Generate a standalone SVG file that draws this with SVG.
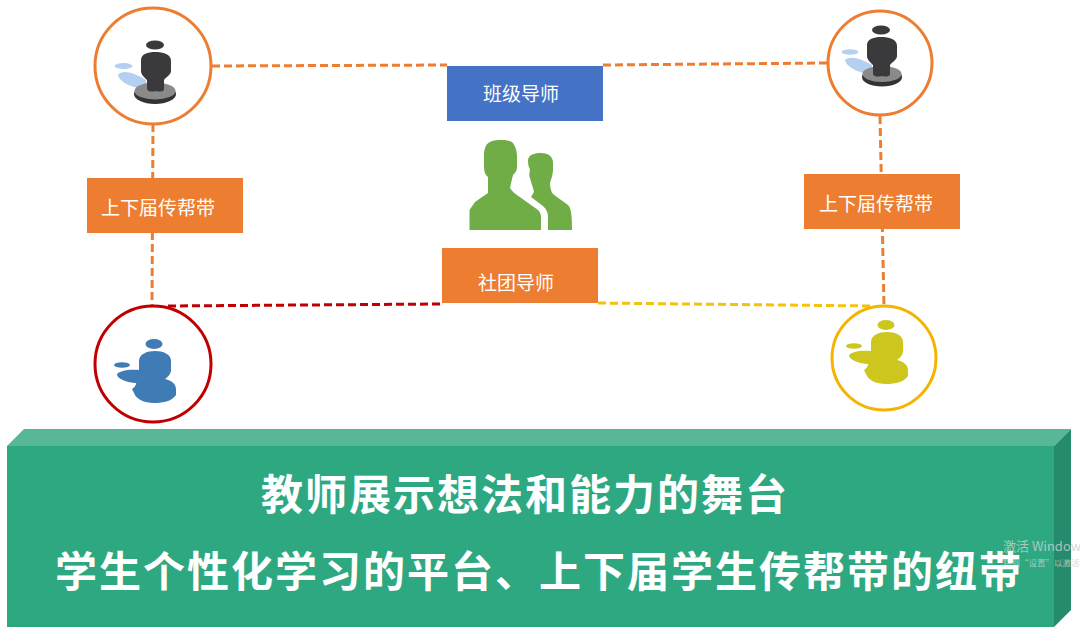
<svg xmlns="http://www.w3.org/2000/svg" width="1080" height="629" viewBox="0 0 1080 629">
<style>
.cjk{font-family:"Noto Sans CJK SC","Noto Sans",sans-serif}
.lbl{font-size:19px;fill:#fff;text-anchor:middle}
.big{font-size:42px;font-weight:700;fill:#fff;letter-spacing:2px}
.c{fill:#fff;stroke-width:3}
.d{fill:none;stroke-width:3;stroke-dasharray:8 4}
.dark{fill:#3a3a3c}.sh{fill:#b4cff0}
.wm{fill:#c8d2ce;opacity:.8}
</style>
<defs>
<g id="p">
<ellipse cx="0" cy="-29" rx="9" ry="4.500"/>
<path d="M-14-14C-14-20-7-22 0-22C8-22 16-20 16-13L16-3C16 1 10 4 9 6L9 15C9 18 4 18 1 17C-3 18-7 18-8 15L-8 6C-10 4-14 1-14-3Z"/>
</g>
<g id="q">
<ellipse cx="-32" cy="1" rx="8" ry="2.800"/>
<ellipse cx="0" cy="-20" rx="8.500" ry="5"/>
<path d="M-15-3C-15-10-7-13 1-13C9-13 17-10 17-3L17 6C17 10 14 13 11 15C16 16 22 19 22 25L22 31C18 37 10 39 0 39C-10 39-18 35-20 29L-22 25C-20 24-17 20-18 19C-26 19-36 15-37 11C-37 7-25 5-15 6Z"/>
</g>
</defs>
<g id="connectors">
<path class="d" stroke="#ed7d31" d="M212 66L447 65"/>
<path class="d" stroke="#ed7d31" d="M603 65L828 63"/>
<path class="d" stroke="#ed7d31" d="M153 124L152 306"/>
<path class="d" stroke="#ed7d31" d="M880 116L884 306"/>
<path class="d" stroke="#c00000" d="M168 306L442 304"/>
<path class="d" stroke="#f4c20d" d="M598 303L870 306"/>
</g>
<g id="node-tl">
<circle class="c" cx="153" cy="66" r="58" stroke="#ed7d31"/>
<ellipse class="sh" cx="123.500" cy="66" rx="9" ry="3"/>
<path class="sh" d="M118 75C122 69 135 73 146 80L146 90C136 88 120 84 118 75Z"/>
<ellipse cx="155" cy="94" rx="21" ry="10" fill="#333"/>
<ellipse cx="155" cy="91" rx="20.500" ry="8.500" fill="#8a8a8a"/>
<use href="#p" x="155" y="74" class="dark"/>
</g>
<g id="node-tr">
<circle class="c" cx="880" cy="63" r="52" stroke="#ed7d31"/>
<ellipse class="sh" cx="850" cy="52" rx="8.500" ry="2.800"/>
<path class="sh" d="M845 60C850 55 862 59 872 65L872 75C862 73 847 69 845 60Z"/>
<ellipse cx="882" cy="77" rx="20" ry="9.500" fill="#333"/>
<ellipse cx="882" cy="74" rx="19.500" ry="8" fill="#8a8a8a"/>
<use href="#p" x="881" y="59" class="dark"/>
</g>
<g id="node-bl">
<circle class="c" cx="153" cy="364" r="58" stroke="#c00000"/>
<use href="#q" x="154" y="364" fill="#3f7cb5"/>
</g>
<g id="node-br">
<circle class="c" cx="884" cy="358" r="52" stroke="#f4b400"/>
<use href="#q" x="886" y="345" fill="#cdc61f"/>
</g>
<g id="node-teacher-class">
<rect x="447" y="66" width="156" height="55" fill="#4472c4"/>
<text class="cjk lbl" x="521" y="101">班级导师</text>
</g>
<g id="node-mentors">
<path fill="#70ad47" d="M469.500 230L469.500 210L475 202L488 193L488 177C485 175 484 171 484 167L484 153C485 147 486 144 490 142C494 140 498 140 502 140C507 140 511 141 513 143C516 147 517 152 517 157L517 167C517 171 515 173 513 175C512 179 511 183 510 188C512 191 514 193 517 195L538 210C540 212 541 214 541 217L541 230Z"/>
<path fill="#70ad47" d="M548 230L548 217C548 212 546 209 543 206C539 203 535 200 531 197L534 192C533 187 531 182 530 178C529 176 529 174 530 170C528 166 528 162 528 160C529 155 533 153 541 153C549 153 553 157 553 163L553 170C553 175 551 179 550 183C550 187 551 190 552 193C556 197 563 201 568 205C571 208 572 214 572 230Z"/>
</g>
<g id="node-teacher-club">
<rect x="442" y="248" width="156" height="55" fill="#ed7d31"/>
<text class="cjk lbl" x="516" y="290">社团导师</text>
</g>
<g id="node-help-left">
<rect x="87" y="178" width="156" height="55" fill="#ed7d31"/>
<text class="cjk lbl" x="158" y="215">上下届传帮带</text>
</g>
<g id="node-help-right">
<rect x="804" y="174" width="156" height="55" fill="#ed7d31"/>
<text class="cjk lbl" x="876" y="211">上下届传帮带</text>
</g>
<g id="node-platform">
<polygon points="7,446 24,429 1071,429 1054,446" fill="#58b797"/>
<polygon points="1054,446 1071,429 1071,610 1054,627" fill="#268a6c"/>
<rect x="7" y="446" width="1047" height="181" fill="#2ea881"/>
<text class="wm cjk" x="1003" y="551" font-size="13">激活 Window</text>
<text class="wm cjk" x="1003" y="566" font-size="8.500">转到“设置”以激活</text>
<text class="cjk big" x="261" y="510">教师展示想法和能力的舞台</text>
<text class="cjk big" x="55" y="587">学生个性化学习的平台、上下届学生传帮带的纽带</text>
</g>
</svg>
